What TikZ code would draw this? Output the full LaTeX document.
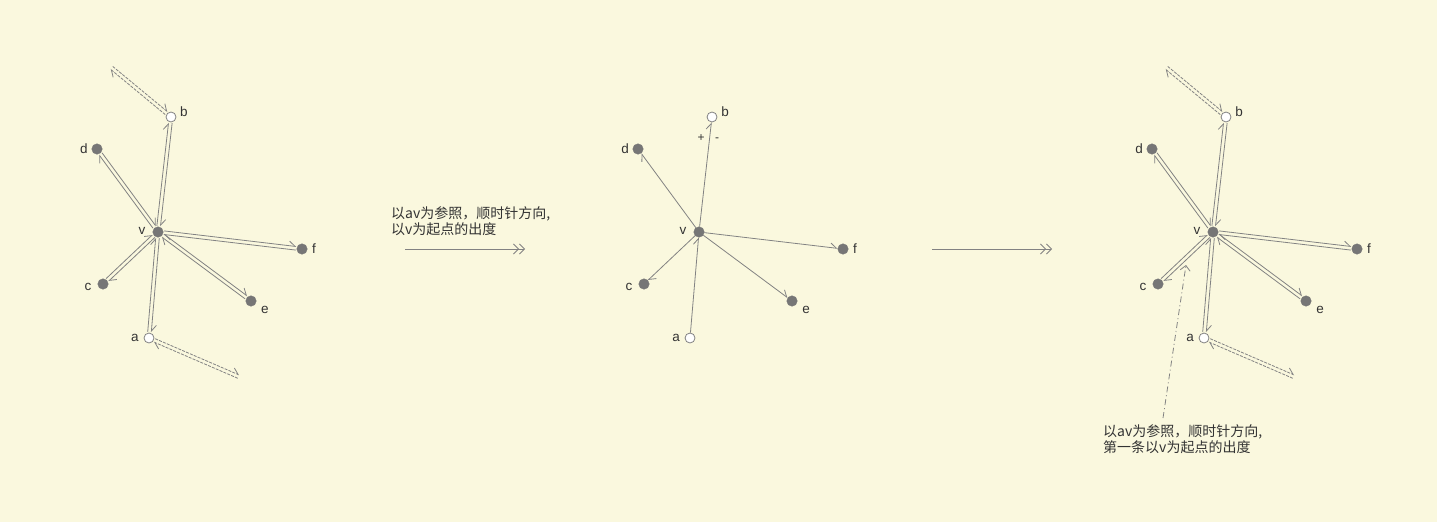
\documentclass[tikz,border=0pt]{standalone}
\usepackage{fontspec}
\setmainfont{Liberation Sans}
\newfontfamily\cjk{Noto Sans CJK SC}
\usepackage{tikz}
\usetikzlibrary{arrows.meta}
\usetikzlibrary{positioning,calc}
\definecolor{sfondo}{RGB}{250,248,222}
\definecolor{grigio}{RGB}{118,118,118}
\definecolor{linea}{RGB}{130,130,130}
\colorlet{testo}{black!80}
\tikzset{%
  pieno/.style={circle,fill=grigio,draw=grigio,minimum size=10.5pt,inner sep=0pt},
  vuoto/.style={circle,fill=white,draw=linea,line width=0.8pt,minimum size=10pt,inner sep=0pt},
  lbl/.style={font=\fontsize{13.5}{14}\selectfont,text=testo,inner sep=0pt,text height=7pt,text depth=0pt},
  mezzo/.style={-{Straight Barb[harpoon,length=6pt,width=9pt]},draw=linea,line width=0.8pt,shorten >=6pt,shorten <=6pt},
  arco/.style={-{Straight Barb[harpoon,length=6pt,width=9pt]},draw=linea,line width=0.8pt},
  freccia/.style={-{Straight Barb[length=5pt,width=10pt]Straight Barb[length=5pt,width=10pt]},draw=linea,line width=0.8pt},
  tratti/.style={dash pattern=on 3pt off 1.2pt},
  nota/.style={font=\cjk\fontsize{14}{16}\selectfont,align=left,inner sep=0pt,text=testo}
}
% coppia di archi opposti tra due vertici
\newcommand{\coppia}[3][]{%
\draw[mezzo,#1] ($(#2)!1.8pt!90:(#3)$) -- ($(#3)!1.8pt!-90:(#2)$);
\draw[mezzo,#1] ($(#3)!1.8pt!90:(#2)$) -- ($(#2)!1.8pt!-90:(#3)$);
}
% vertici di un grafo, #1 prefisso, #2 spostamento
\newcommand{\nodi}[2]{%
\node[pieno] (#1v) at (158+#2,232) {};
\node[vuoto] (#1b) at (171+#2,117) {};
\node[pieno] (#1d) at (97+#2,149) {};
\node[pieno] (#1f) at (302+#2,249) {};
\node[pieno] (#1c) at (103+#2,284) {};
\node[pieno] (#1e) at (251+#2,301) {};
\node[vuoto] (#1a) at (149+#2,338) {};
\node[lbl] (#1lv) at (142+#2,231) {v};
\node[lbl] (#1lb) at (184+#2,113) {b};
\node[lbl] (#1ld) at (84+#2,150) {d};
\node[lbl] (#1lf) at (314+#2,250) {f};
\node[lbl] (#1lc) at (88+#2,287) {c};
\node[lbl] (#1le) at (265+#2,310) {e};
\node[lbl] (#1la) at (135+#2,338) {a};
}
% tutti gli archi, con i tratteggi esterni
\newcommand{\archi}[2]{%
\coordinate (#1bo) at (107+#2,64);
\coordinate (#1ao) at (244+#2,379);
\foreach \x in {b,d,f,c,e,a} {
  \coppia{#1v}{#1\x}
};
\coppia[tratti]{#1b}{#1bo}
\coppia[tratti]{#1a}{#1ao}
}

\begin{document}
\begin{tikzpicture}[x=1pt,y=-1pt]
\fill[sfondo] (0,0) rectangle (1437,522);
\useasboundingbox (0,0) rectangle (1437,522);

% grafo a sinistra
\nodi{L}{0}
\archi{L}{0}

% passo 1
\node[nota,anchor=north west] (n1) at (391,206) {以av为参照，顺时针方向,\\以v为起点的出度};
\coordinate (p1s) at (405,249);
\coordinate (p1e) at (525,249);
\draw[freccia] (p1s) -- (p1e);

% grafo al centro
\nodi{M}{541}
\draw[arco] (Mv) -- (Mb);
\draw[arco] (Mv) -- (Md);
\draw[arco] (Mv) -- (Mf);
\draw[arco] (Mv) -- (Mc);
\draw[arco] (Mv) -- (Me);
\draw[arco] (Ma) -- (Mv);
\node[lbl,font=\fontsize{12}{12}\selectfont] (piu) at (701,138) {+};
\node[lbl,font=\fontsize{12}{12}\selectfont] (meno) at (717,138) {-};

% passo 2
\coordinate (p2s) at (932,249);
\coordinate (p2e) at (1052,249);
\draw[freccia] (p2s) -- (p2e);

% grafo a destra
\nodi{R}{1055}
\archi{R}{1055}
\node[nota,anchor=north west] (n2) at (1103,424) {以av为参照，顺时针方向,\\第一条以v为起点的出度};
\coordinate (piede) at (1163,418);
\coordinate (punta) at (1186,265);
\draw[draw=linea,line width=0.8pt,dash pattern=on 6pt off 3pt on 1pt off 3pt,-{Straight Barb[length=5pt,width=10pt]}] (piede) -- (punta);
\end{tikzpicture}
\end{document}
